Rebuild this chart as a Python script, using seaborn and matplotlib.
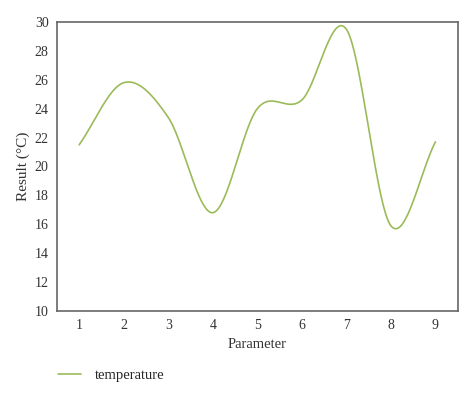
import numpy as np
import pandas as pd
import seaborn as sns
import matplotlib.pyplot as plt

# values
parameter = [1, 2, 3, 4, 5, 6, 7, 8, 9]
temperature = [21.5, 25.8, 23.4, 16.8, 24.0, 24.6, 29.5, 15.9, 21.7]


def smooth(x, y, n=40):
    # Catmull-Rom curve through the points (like a "smoothed line" chart)
    x = np.asarray(x, float)
    y = np.asarray(y, float)
    xp = np.r_[2 * x[0] - x[1], x, 2 * x[-1] - x[-2]]
    yp = np.r_[2 * y[0] - y[1], y, 2 * y[-1] - y[-2]]
    xs, ys = [], []
    for i in range(1, len(xp) - 2):
        t = np.linspace(0, 1, n, endpoint=False)
        p0, p1, p2, p3 = yp[i - 1], yp[i], yp[i + 1], yp[i + 2]
        m1 = (p2 - p0) / 2
        m2 = (p3 - p1) / 2
        h00 = 2 * t**3 - 3 * t**2 + 1
        h10 = t**3 - 2 * t**2 + t
        h01 = -2 * t**3 + 3 * t**2
        h11 = t**3 - t**2
        xs.append(xp[i] + t * (xp[i + 1] - xp[i]))
        ys.append(h00 * p1 + h10 * m1 + h01 * p2 + h11 * m2)
    xs.append([x[-1]])
    ys.append([y[-1]])
    return np.concatenate(xs), np.concatenate(ys)


sx, sy = smooth(parameter, temperature)
df = pd.DataFrame({"Parameter": sx, "temperature": sy})

sns.set_style("white")
plt.rcParams["font.family"] = ["Liberation Serif", "DejaVu Serif"]

fig = plt.figure(figsize=(4.74, 3.95), dpi=100)
ax = fig.add_axes([0.120, 0.2127, 0.8456, 0.7316])

sns.lineplot(data=df, x="Parameter", y="temperature", ax=ax, color="#9bbb59",
             linewidth=1.2, label="temperature", legend=False, sort=False)

ax.set_xlim(0.5, 9.5)
ax.set_ylim(10, 30)
ax.set_xticks(parameter)
ax.set_yticks(range(10, 31, 2))
ax.tick_params(axis="both", length=0, labelsize=10, colors="#333333", pad=6)
ax.set_xlabel("Parameter", fontsize=10.5, color="#333333", labelpad=4)
ax.set_ylabel("Result (°C)", fontsize=11, color="#333333", labelpad=3)
for s in ax.spines.values():
    s.set_color("#666666")
    s.set_linewidth(1.2)

fig.legend(*ax.get_legend_handles_labels(), loc="lower left",
           bbox_to_anchor=(0.095, 0.0), frameon=False, fontsize=10.5,
           handlelength=1.6, handletextpad=0.9)

fig.savefig("out.png", dpi=100)
